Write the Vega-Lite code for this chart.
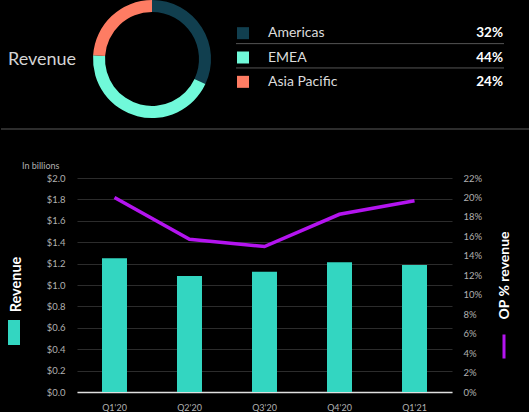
{
  "$schema": "https://vega.github.io/schema/vega-lite/v6.json",
  "background": "black",
  "padding": 0,
  "spacing": 10,
  "config": {"view": {"stroke": null}, "font": "Lato"},
  "datasets": {
    "heading": [{"label": "Revenue"}],
    "regions": [
      {"region": "Americas", "share": 0.32},
      {"region": "EMEA", "share": 0.44},
      {"region": "Asia Pacific", "share": 0.24}
    ],
    "sep": [{"kind": "separator"}],
    "empty": [],
    "quarters": [
      {"q": "Q1'20", "revenue": 1.25, "op": 0.2},
      {"q": "Q2'20", "revenue": 1.085, "op": 0.157},
      {"q": "Q3'20", "revenue": 1.125, "op": 0.1495},
      {"q": "Q4'20", "revenue": 1.213, "op": 0.1827},
      {"q": "Q1'21", "revenue": 1.188, "op": 0.1967}
    ]
  },
  "vconcat": [
    {
      "spacing": 0,
      "hconcat": [
        {
          "width": 92, "height": 118,
          "data": {"name": "heading"},
          "mark": {"type": "text", "align": "left", "baseline": "middle", "fontSize": 18, "color": "#d4d4d4"},
          "encoding": {"text": {"field": "label"}, "x": {"value": 7}, "y": {"value": 60}}
        },
        {
          "width": 118, "height": 118,
          "data": {"name": "regions"},
          "transform": [{"window": [{"op": "row_number", "as": "rank"}]}],
          "mark": {"type": "arc", "innerRadius": 47, "outerRadius": 59},
          "encoding": {
            "theta": {"field": "share", "type": "quantitative", "stack": true},
            "order": {"field": "rank", "type": "quantitative"},
            "color": {"field": "region", "type": "nominal",
              "scale": {"domain": ["Americas", "EMEA", "Asia Pacific"], "range": ["#113f4f", "#70f9d9", "#fe7c63"]},
              "legend": null}
          }
        },
        {
          "width": 319, "height": 118,
          "data": {"name": "regions"},
          "encoding": {
            "y": {"field": "region", "type": "nominal", "sort": ["Americas", "EMEA", "Asia Pacific"],
              "scale": {"range": [21, 94], "paddingInner": 0, "paddingOuter": 0}, "axis": null}
          },
          "layer": [
            {
              "mark": {"type": "square", "size": 144, "opacity": 1, "filled": true},
              "encoding": {"x": {"value": 32}, "color": {"field": "region", "type": "nominal", "legend": null}}
            },
            {
              "mark": {"type": "text", "align": "left", "baseline": "middle", "fontSize": 14, "color": "#dcdcdc"},
              "encoding": {"x": {"value": 57}, "text": {"field": "region"}}
            },
            {
              "mark": {"type": "text", "align": "right", "baseline": "middle", "fontSize": 13.5, "fontWeight": "bold", "color": "#ffffff"},
              "encoding": {"x": {"value": 292}, "text": {"field": "share", "format": ".0%"}}
            },
            {
              "transform": [{"filter": "datum.region != 'Asia Pacific'"}],
              "mark": {"type": "rule", "color": "#555555", "strokeWidth": 1},
              "encoding": {
                "x": {"value": 25}, "x2": {"value": 293},
                "y": {"field": "region", "type": "nominal", "sort": ["Americas", "EMEA", "Asia Pacific"], "bandPosition": 0.93}
              }
            }
          ]
        }
      ]
    },
    {
      "width": 529, "height": 23,
      "data": {"name": "sep"},
      "mark": {"type": "rule", "color": "#3c3c3c", "strokeWidth": 1.5},
      "encoding": {"x": {"value": 0}, "x2": {"value": 529}, "y": {"value": 0}}
    },
    {
      "spacing": 0,
      "hconcat": [
        {
          "width": 7, "height": 10,
          "data": {"name": "empty"},
          "mark": {"type": "rule", "opacity": 0},
          "encoding": {"x": {"value": 0}, "y": {"value": 0}}
        },
        {
          "width": 375, "height": 214,
          "data": {"name": "quarters"},
          "title": {"text": "In billions", "anchor": "start", "frame": "group", "fontSize": 9, "fontWeight": "normal", "color": "#b0b0b0", "dx": -55, "offset": 2},
          "encoding": {
            "x": {"field": "q", "type": "ordinal", "sort": null,
              "scale": {"paddingInner": 0.6667, "paddingOuter": 0.3333},
              "axis": {"title": null, "labelAngle": 0, "labelColor": "#b0b0b0", "labelFontSize": 9, "labelPadding": 11, "ticks": false, "domain": true, "domainColor": "#e0e0e0", "domainWidth": 1.5, "grid": false}}
          },
          "layer": [
            {
              "mark": {"type": "bar"},
              "encoding": {
                "y": {"field": "revenue", "type": "quantitative", "scale": {"domain": [0, 2]},
                  "axis": {"values": [0, 0.2, 0.4, 0.6, 0.8, 1, 1.2, 1.4, 1.6, 1.8, 2], "format": "$.1f",
                    "title": "Revenue", "titleColor": "#ffffff", "titleFontSize": 14.5, "titleFontWeight": "bold",
                    "titleAngle": 270, "titleX": -68, "titleY": 106, "titleAlign": "center", "titleBaseline": "top",
                    "labelColor": "#b0b0b0", "labelFontSize": 9.5, "labelPadding": 12, "ticks": false, "domain": false,
                    "grid": true, "gridColor": "#2c2c2c", "gridWidth": 1.2}},
                "fill": {"datum": "Revenue", "scale": {"range": ["#33d6c1"]},
                  "legend": {"orient": "none", "legendX": -0.5, "legendY": 319, "title": null, "labelExpr": "''", "labelFontSize": 1,
                    "symbolType": "M-0.48,-1L0.48,-1L0.48,1L-0.48,1Z", "symbolSize": 625, "symbolStrokeWidth": 0, "padding": 1}}
              }
            },
            {
              "mark": {"type": "line", "strokeWidth": 3.5},
              "encoding": {
                "y": {"field": "op", "type": "quantitative", "scale": {"domain": [0, 0.22]},
                  "axis": {"orient": "right", "values": [0, 0.02, 0.04, 0.06, 0.08, 0.1, 0.12, 0.14, 0.16, 0.18, 0.2, 0.22], "format": ".0%",
                    "title": "OP % revenue", "titleColor": "#ffffff", "titleFontSize": 14, "titleFontWeight": "bold",
                    "titleAngle": 270, "titleX": 56, "titleY": 97, "titleAlign": "center", "titleBaseline": "alphabetic",
                    "labelColor": "#b0b0b0", "labelFontSize": 9.5, "labelPadding": 11, "ticks": false, "domain": false, "grid": false}},
                "stroke": {"datum": "OP % revenue", "scale": {"range": ["#b414f0"]},
                  "legend": {"orient": "none", "legendX": 489.5, "legendY": 333, "title": null, "labelExpr": "''", "labelFontSize": 1,
                    "symbolType": "M0,-1L0,1", "symbolSize": 576, "symbolStrokeWidth": 3, "padding": 0}}
              }
            }
          ],
          "resolve": {"scale": {"y": "independent"}}
        }
      ]
    }
  ]
}
